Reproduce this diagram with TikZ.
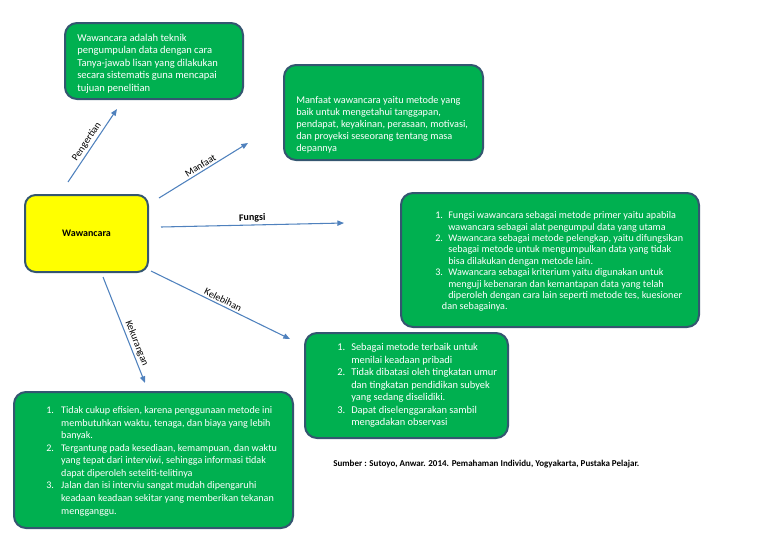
\documentclass[tikz,border=0pt]{standalone}
\usepackage{fontspec}
\setmainfont{Carlito}
\usetikzlibrary{arrows.meta}
\definecolor{cardgreen}{RGB}{0,176,80}
\definecolor{cardline}{RGB}{52,86,112}
\definecolor{linkblue}{RGB}{79,129,189}
\definecolor{hubyellow}{RGB}{255,255,0}

\begin{document}
\begin{tikzpicture}[x=0.75pt,y=-0.75pt,
  card/.style={draw=cardline,line width=1.5pt,fill=cardgreen,rounded corners=9pt},
  body/.style={anchor=north west,inner sep=0pt,text=white,align=left},
  link/.style={draw=linkblue,line width=0.8pt,-{Triangle[length=5pt,width=4pt]}},
  tag/.style={sloped,above,inner sep=1.5pt,font=\fontsize{7.5}{9}\selectfont}]
  \useasboundingbox (0,0) rectangle (768,544);
  \def\card#1#2#3#4{\path[card] (#1,#2) rectangle (#3,#4);}
  \def\items#1#2{\begin{tabular}{@{}p{#1}@{}l@{}}#2\end{tabular}}
  % centre
  \path[card,fill=hubyellow,rounded corners=8pt] (25,195) rectangle (148,272);
  \node[font=\bfseries\fontsize{7.5}{9}\selectfont] (hub) at (86.5,233) {Wawancara};
  % pengertian
  \card{65}{23}{243}{99}
  \node[body,font=\fontsize{7.9}{9.4}\selectfont] (pengertian) at (77,33.5)
    {Wawancara adalah teknik\\ pengumpulan data dengan cara\\ Tanya-jawab lisan yang dilakukan\\
     secara sistematis guna mencapai\\ tujuan penelitian};
  % manfaat
  \card{284}{65}{483}{160}
  \node[body,font=\fontsize{7.7}{8.9}\selectfont] (manfaat) at (296,96.5)
    {Manfaat wawancara yaitu metode yang\\ baik untuk mengetahui tanggapan,\\
     pendapat, keyakinan, perasaan, motivasi,\\ dan proyeksi seseorang tentang masa\\ depannya};
  % fungsi
  \card{401}{193}{699}{327}
  \node[body,font=\fontsize{7.6}{8.55}\selectfont] (fungsi) at (435,210.5)
    {\items{9.8pt}{1. & Fungsi wawancara sebagai metode primer yaitu apabila\\
      & wawancara sebagai alat pengumpul data yang utama\\
      2. & Wawancara sebagai metode pelengkap, yaitu difungsikan\\
      & sebagai metode untuk mengumpulkan data yang tidak\\
      & bisa dilakukan dengan metode lain.\\
      3. & Wawancara sebagai kriterium yaitu digunakan untuk\\
      & menguji kebenaran dan kemantapan data yang telah\\
      & diperoleh dengan cara lain seperti metode tes, kuesioner\\
      \multicolumn{2}{@{\hspace{5pt}}l@{}}{dan sebagainya.}}};
  % kelebihan
  \card{305}{333}{508}{438}
  \node[body,font=\fontsize{7.8}{9.4}\selectfont] (kelebihan) at (337,341.7)
    {\items{10.5pt}{1. & Sebagai metode terbaik untuk\\
      & menilai keadaan pribadi\\
      2. & Tidak dibatasi oleh tingkatan umur\\
      & dan tingkatan pendidikan subyek\\
      & yang sedang diselidiki.\\
      3. & Dapat diselenggarakan sambil\\
      & mengadakan observasi}};
  % kekurangan
  \card{14}{392}{293}{528}
  \node[body,font=\fontsize{7.6}{9.4}\selectfont] (kekurangan) at (46,404.7)
    {\items{11.2pt}{1. & Tidak cukup efisien, karena penggunaan metode ini\\
      & membutuhkan waktu, tenaga, dan biaya yang lebih\\
      & banyak.\\
      2. & Tergantung pada kesediaan, kemampuan, dan waktu\\
      & yang tepat dari interviwi, sehingga informasi tidak\\
      & dapat diperoleh seteliti-telitinya\\
      3. & Jalan dan isi interviu sangat mudah dipengaruhi\\
      & keadaan keadaan sekitar yang memberikan tekanan\\
      & mengganggu.}};
  % source
  \node[anchor=west,inner sep=0pt,font=\bfseries\fontsize{6.75}{8}\selectfont] (sumber) at (333,464)
    {Sumber : Sutoyo, Anwar. 2014. Pemahaman Individu, Yogyakarta, Pustaka Pelajar.};
  % connectors
  \coordinate (pengertianFrom) at (68,182);   \coordinate (pengertianTo) at (117,109);
  \coordinate (manfaatFrom) at (159,198);     \coordinate (manfaatTo) at (248,143);
  \coordinate (fungsiFrom) at (161,227);      \coordinate (fungsiTo) at (344,223);
  \coordinate (kelebihanFrom) at (151,271);   \coordinate (kelebihanTo) at (290,339);
  \coordinate (kekuranganFrom) at (103,277);  \coordinate (kekuranganTo) at (145,383);
  \draw[link] (pengertianFrom) -- node[tag] {Pengertian} (pengertianTo);
  \draw[link] (manfaatFrom) -- node[tag] {Manfaat} (manfaatTo);
  \draw[link] (fungsiFrom) -- node[tag,font=\bfseries\fontsize{7.5}{9}\selectfont] {Fungsi} (fungsiTo);
  \draw[link] (kelebihanFrom) -- node[tag] {Kelebihan} (kelebihanTo);
  \draw[link] (kekuranganFrom) -- node[tag,pos=0.65] {Kekurangan} (kekuranganTo);
\end{tikzpicture}
\end{document}
